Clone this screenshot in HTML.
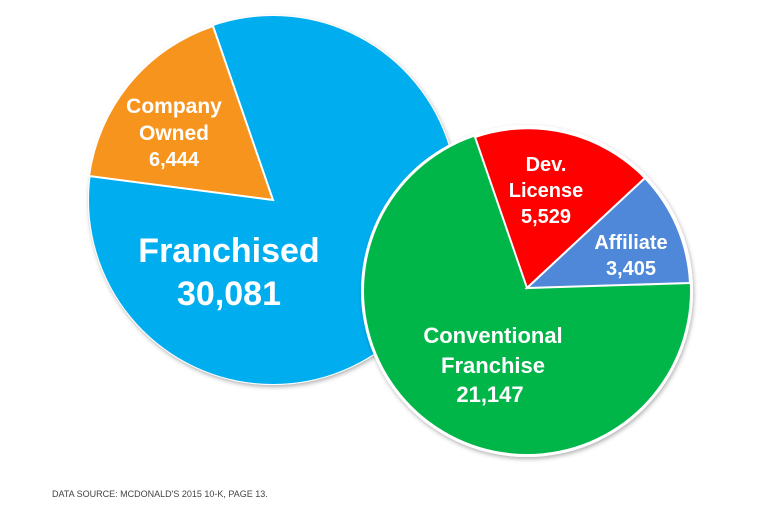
<!DOCTYPE html>
<html><head><style>
body{margin:0;background:#fff;width:780px;height:508px;overflow:hidden}
svg text{font-family:"Liberation Sans",sans-serif;font-weight:bold;fill:#fff;text-anchor:middle}
</style></head><body>
<svg width="780" height="508" viewBox="0 0 780 508">
<defs><filter id="sh" x="-20%" y="-20%" width="140%" height="140%"><feDropShadow dx="1" dy="2" stdDeviation="2" flood-color="#000" flood-opacity="0.3"/></filter></defs>
<g filter="url(#sh)">
<circle cx="273" cy="200" r="185" fill="#fff"/>
<circle cx="273" cy="200" r="184" fill="#00aef0"/>
</g>
<path d="M273 200 L213 26 A184 184 0 0 0 89 176 Z" fill="#f7941d" stroke="#fff" stroke-width="2"/>
<text x="174" y="113" font-size="21">Company</text>
<text x="174" y="140" font-size="21">Owned</text>
<text x="174" y="166" font-size="20">6,444</text>
<text x="229" y="262" font-size="34">Franchised</text>
<text x="229" y="305" font-size="34">30,081</text>
<g filter="url(#sh)">
<circle cx="527" cy="291" r="166" fill="#fff"/>
<circle cx="527" cy="291" r="163" fill="#00b64a"/>
</g>
<path d="M527 288 L475 137 A163 163 0 0 1 645 178 Z" fill="#fe0000" stroke="#fff" stroke-width="2"/>
<path d="M527 288 L645 178 A163 163 0 0 1 690 283 Z" fill="#4f88d9" stroke="#fff" stroke-width="2"/>
<text x="546" y="171" font-size="20">Dev.</text>
<text x="546" y="197" font-size="20">License</text>
<text x="546" y="223" font-size="20">5,529</text>
<text x="631" y="249" font-size="20">Affiliate</text>
<text x="631" y="275" font-size="20">3,405</text>
<text x="493" y="343" font-size="22">Conventional</text>
<text x="493" y="373" font-size="22">Franchise</text>
<text x="490" y="402" font-size="22">21,147</text>
<text x="52" y="497" font-size="9" style="text-anchor:start;font-weight:normal;fill:#444">DATA SOURCE: MCDONALD'S 2015 10-K, PAGE 13.</text>
</svg>
</body></html>
